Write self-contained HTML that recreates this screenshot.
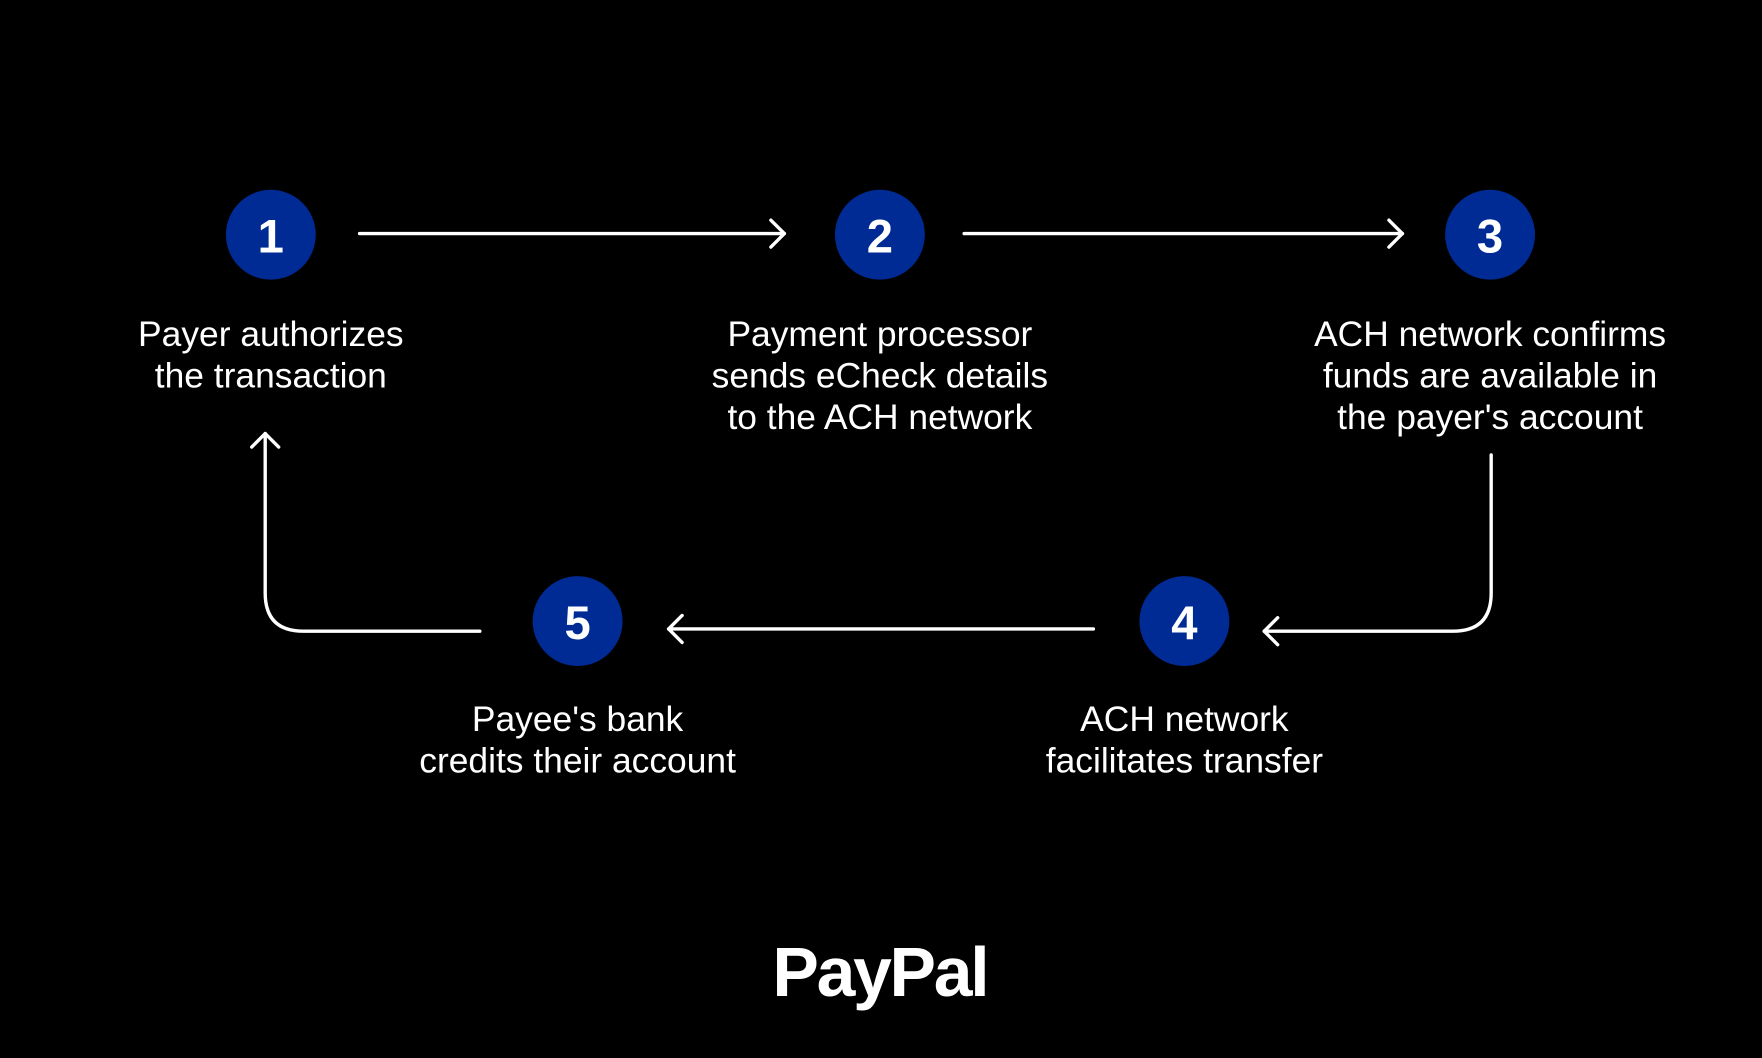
<!DOCTYPE html>
<html><head><meta charset="utf-8"><style>
html,body{margin:0;padding:0;background:#000;}
svg{display:block}
text{font-family:"Liberation Sans","DejaVu Sans",sans-serif;fill:#fff}
</style></head><body>
<svg width="1762" height="1058" viewBox="0 0 1568 942" preserveAspectRatio="none" xmlns="http://www.w3.org/2000/svg">
<rect width="1568" height="942" fill="#000"/>
<g fill="none" stroke="#fff" stroke-width="3" stroke-linecap="round" stroke-linejoin="round">
<line x1="320" y1="208" x2="698" y2="208"/><polyline points="686,196 698,208 686,220"/>
<line x1="858" y1="208" x2="1248" y2="208"/><polyline points="1236,196 1248,208 1236,220"/>
<path d="M1327,405 V528 Q1327,562 1293,562 H1125"/><polyline points="1137,550 1125,562 1137,574"/>
<line x1="973" y1="560" x2="595" y2="560"/><polyline points="607,548 595,560 607,572"/>
<path d="M427,562 H270 Q236,562 236,528 V386"/><polyline points="224,398 236,386 248,398"/>
</g>
<g fill="#002a94">
<circle cx="241" cy="209" r="40"/><circle cx="783" cy="209" r="40"/><circle cx="1326" cy="209" r="40"/>
<circle cx="514" cy="553" r="40"/><circle cx="1054" cy="553" r="40"/>
</g>
<g font-size="42" font-weight="bold" text-anchor="middle">
<text x="241" y="225">1</text><text x="783" y="225">2</text><text x="1326" y="225">3</text>
<text x="514" y="569">5</text><text x="1054" y="569">4</text>
</g>
<g font-size="31.5" text-anchor="middle">
<text x="241" y="308">Payer authorizes</text><text x="241" y="345">the transaction</text>
<text x="783" y="308">Payment processor</text><text x="783" y="345">sends eCheck details</text><text x="783" y="382">to the ACH network</text>
<text x="1326" y="308">ACH network confirms</text><text x="1326" y="345">funds are available in</text><text x="1326" y="382">the payer's account</text>
<text x="514" y="651">Payee's bank</text><text x="514" y="688">credits their account</text>
<text x="1054" y="651">ACH network</text><text x="1054" y="688">facilitates transfer</text>
</g>
<text x="783" y="887" font-size="62" font-weight="bold" text-anchor="middle" letter-spacing="-2">PayPal</text>
</svg>
</body></html>
